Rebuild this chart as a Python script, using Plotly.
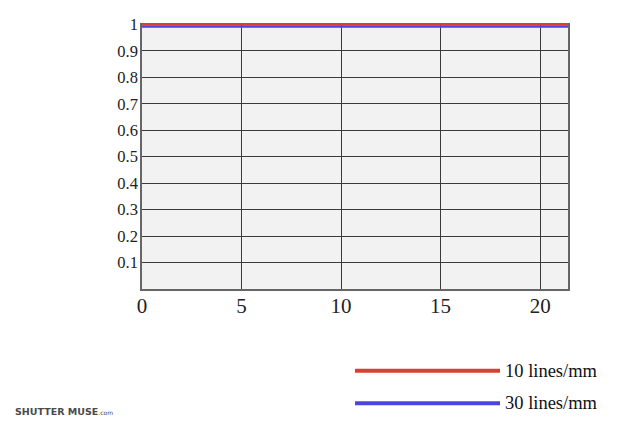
import plotly.graph_objects as go

# image height (mm) from centre, and MTF contrast values
image_height = [0, 5, 10, 15, 20, 21.4]
mtf_10 = [1.0, 1.0, 1.0, 1.0, 1.0, 1.0]
mtf_30 = [0.992, 0.992, 0.992, 0.992, 0.992, 0.992]

y_ticks = [0.1, 0.2, 0.3, 0.4, 0.5, 0.6, 0.7, 0.8, 0.9, 1.0]
y_tick_text = ["0.1", "0.2", "0.3", "0.4", "0.5", "0.6", "0.7", "0.8", "0.9", "1"]
x_ticks = [0, 5, 10, 15, 20]

RED = "#d8412f"
BLUE = "#4a45e0"
GRID = "#3a3a3a"
SERIF = "Liberation Serif, Times New Roman, serif"

W, H = 627, 429
# plot box in page pixels (page has an 8px body margin)
PL, PR, PT, PB = 142, 568, 23, 289
PW, PH = PR - PL, PB - PT


def px_x(x):
    return (x - PL) / PW


def px_y(y):
    return (PB - y) / PH


fig = go.Figure()
fig.add_trace(go.Scatter(x=image_height, y=mtf_30, mode="lines",
                         line=dict(color=BLUE, width=2.5), name="30 lines/mm"))
fig.add_trace(go.Scatter(x=image_height, y=mtf_10, mode="lines",
                         line=dict(color=RED, width=2.5), name="10 lines/mm"))

# legend drawn by hand, below the plot on the right
legend_items = [("10 lines/mm", RED, 370.7), ("30 lines/mm", BLUE, 403.3)]
for label, color, ypx in legend_items:
    fig.add_shape(type="line", xref="paper", yref="paper",
                  x0=px_x(355), x1=px_x(500), y0=px_y(ypx), y1=px_y(ypx),
                  line=dict(color=color, width=4))
    fig.add_annotation(xref="paper", yref="paper",
                       x=px_x(503), y=px_y(ypx),
                       xanchor="left", yanchor="middle", showarrow=False,
                       text=label, font=dict(family=SERIF, size=18.5, color="#111"))

fig.add_annotation(xref="paper", yref="paper",
                   x=px_x(13), y=px_y(411),
                   xanchor="left", yanchor="middle", showarrow=False,
                   text="<b>SHUTTER MUSE</b><span style='font-size:6px'>.com</span>",
                   font=dict(family="DejaVu Sans", size=9.5, color="#4a4a4a"))

fig.update_layout(
    width=W, height=H,
    margin=dict(l=PL - 8, r=W - PR + 8, t=PT - 8, b=H - PB + 8),
    paper_bgcolor="white",
    plot_bgcolor="#f2f2f2",
    showlegend=False,
    xaxis=dict(range=[0, 21.4], tickvals=x_ticks, showgrid=True,
               gridcolor=GRID, gridwidth=1, showline=True, linecolor="#666",
               linewidth=1.5, mirror=False, zeroline=False, ticks="",
               tickfont=dict(family=SERIF, size=21, color="#222"),
               ticklabelstandoff=-3, automargin=False),
    yaxis=dict(range=[0, 1.005], tickvals=y_ticks, ticktext=y_tick_text,
               showgrid=True, gridcolor=GRID, gridwidth=1, showline=True,
               linecolor="#666", linewidth=1.5, mirror=True, zeroline=False,
               ticks="", tickfont=dict(family=SERIF, size=16.5, color="#222"),
               ticklabelstandoff=-1, automargin=False),
)

fig.write_html("out.html")
